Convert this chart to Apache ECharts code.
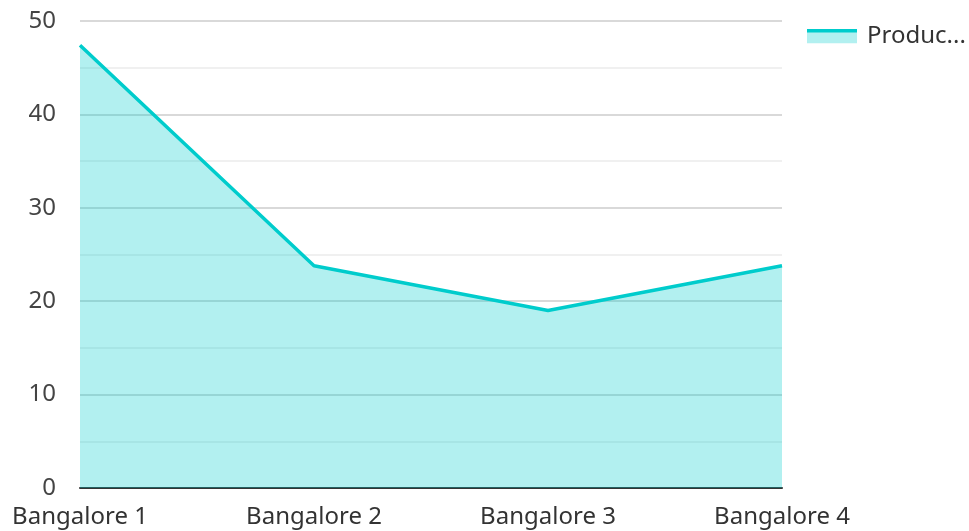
<!DOCTYPE html>
<html>
<head>
<meta charset="utf-8">
<script src="https://cdn.jsdelivr.net/npm/echarts@6/dist/echarts.min.js"></script>
<style>
  html, body { margin: 0; padding: 0; background: #fff; }
  #chart { width: 969px; height: 531px; }
</style>
</head>
<body>
<div id="chart"></div>
<script>
const categories = ['Bangalore 1', 'Bangalore 2', 'Bangalore 3', 'Bangalore 4']
const seriesName = 'Production'
const values = [47.4, 23.8, 19, 23.8]

const lineColor = '#00cccc'
// legend swatch: line on top, filled area underneath
const iconSvg = '<svg xmlns="http://www.w3.org/2000/svg" width="50" height="15">'
  + '<rect x="0" y="0" width="50" height="15" fill="#b2f0f0"/>'
  + '<rect x="0" y="0" width="50" height="4" fill="#00cccc"/></svg>'
const legendIcon = 'image://data:image/svg+xml;charset=utf-8,' + encodeURIComponent(iconSvg)

const chart = echarts.init(document.getElementById('chart'))
chart.setOption({
  animation: false,
  textStyle: { fontFamily: 'Noto Sans' },
  grid: { left: 80, right: 187, top: 21, bottom: 43, containLabel: false },
  legend: {
    left: 807,
    top: 24,
    padding: 0,
    icon: legendIcon,
    itemWidth: 50,
    itemHeight: 15,
    itemGap: 10,
    data: [seriesName],
    textStyle: {
      fontSize: 24,
      color: '#333',
      width: 104,
      padding: [0, 0, 0, 5],
      overflow: 'truncate',
      ellipsis: '...',
    },
  },
  xAxis: {
    type: 'category',
    data: categories,
    boundaryGap: false,
    axisLine: { lineStyle: { color: '#333', width: 2 } },
    axisTick: { show: false },
    axisLabel: { fontSize: 24, color: '#333', margin: 17 },
  },
  yAxis: {
    type: 'value',
    min: 0,
    max: 50,
    interval: 10,
    axisLine: { show: false },
    axisTick: { show: false },
    axisLabel: { fontSize: 24, color: '#444', margin: 24 },
    splitLine: { lineStyle: { color: '#cccccc', width: 1.5 } },
    minorTick: { show: false, splitNumber: 2 },
    minorSplitLine: { show: true, lineStyle: { color: '#ebebeb', width: 1.5 } },
  },
  series: [
    {
      name: seriesName,
      type: 'line',
      data: values,
      showSymbol: false,
      lineStyle: { color: lineColor, width: 3.5 },
      itemStyle: { color: lineColor },
      areaStyle: { color: lineColor, opacity: 0.3 },
    },
  ],
})
</script>
</body>
</html>
